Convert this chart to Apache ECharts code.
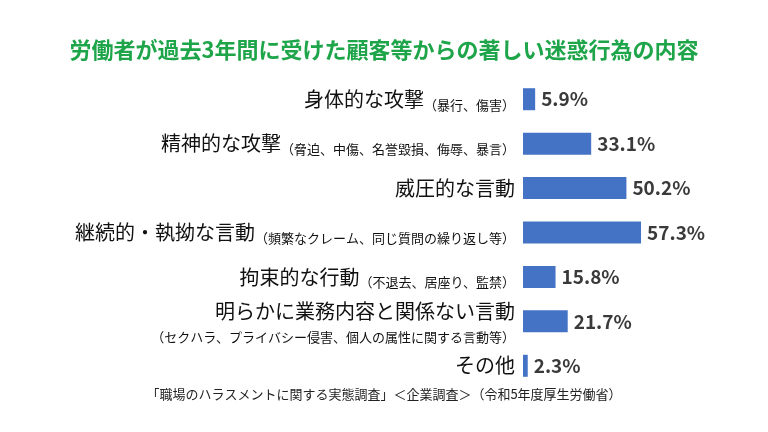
<!DOCTYPE html>
<html><head><meta charset="utf-8">
<script src="https://cdn.jsdelivr.net/npm/echarts@6/dist/echarts.min.js"></script>
<style>html,body{margin:0;padding:0;background:#fff}#c{width:768px;height:432px}</style>
</head><body><div id="c"></div>
<script>
const mainLabels = ["身体的な攻撃","精神的な攻撃","威圧的な言動","継続的・執拗な言動","拘束的な行動","明らかに業務内容と関係ない言動","その他"];
const subLabels = ["（暴行、傷害）","（脅迫、中傷、名誉毀損、侮辱、暴言）","","（頻繁なクレーム、同じ質問の繰り返し等）","（不退去、居座り、監禁）","（セクハラ、プライバシー侵害、個人の属性に関する言動等）",""];
const values = [5.9,33.1,50.2,57.3,15.8,21.7,2.3];
const cats = mainLabels.map((m,i)=>String(i));
const chart = echarts.init(document.getElementById('c'));
chart.setOption({
  animation:false,
  title:{text:"労働者が過去3年間に受けた顧客等からの著しい迷惑行為の内容",left:'center',top:34,
    textStyle:{color:'#1ea54a',fontSize:22,fontWeight:'bold',fontFamily:'Noto Sans CJK JP'}},
  graphic:[{type:'text',left:'center',top:388,style:{text:"「職場のハラスメントに関する実態調査」＜企業調査＞（令和5年度厚生労働省）",
    fontSize:13,fill:'#222',fontFamily:'Noto Sans CJK JP'}}],
  grid:{left:523,right:39,top:77,bottom:44},
  xAxis:{type:'value',min:0,max:100,show:false},
  yAxis:{type:'category',data:cats,inverse:true,axisLine:{show:false},axisTick:{show:false},
    axisLabel:{margin:8,fontFamily:'Noto Sans CJK JP',
      formatter:(v)=>{const i=+v;const s=subLabels[i];
        if(i===5) return '{m|'+mainLabels[i]+'}\n{s|'+s+'}';
        return '{m|'+mainLabels[i]+'}'+(s?'{s|'+s+'}':'');},
      rich:{m:{fontSize:20,color:'#111',fontFamily:'Noto Sans CJK JP',lineHeight:24},
            s:{fontSize:13,color:'#111',fontFamily:'Noto Sans CJK JP',lineHeight:20,verticalAlign:'bottom'}}}},
  series:[{type:'bar',data:values,barWidth:22,itemStyle:{color:'#4472c4'},
    label:{show:true,position:'right',distance:6,formatter:'{c}%',fontSize:19,fontWeight:'bold',color:'#3a3a3a',fontFamily:'Noto Sans CJK JP'}}]
});
</script></body></html>
